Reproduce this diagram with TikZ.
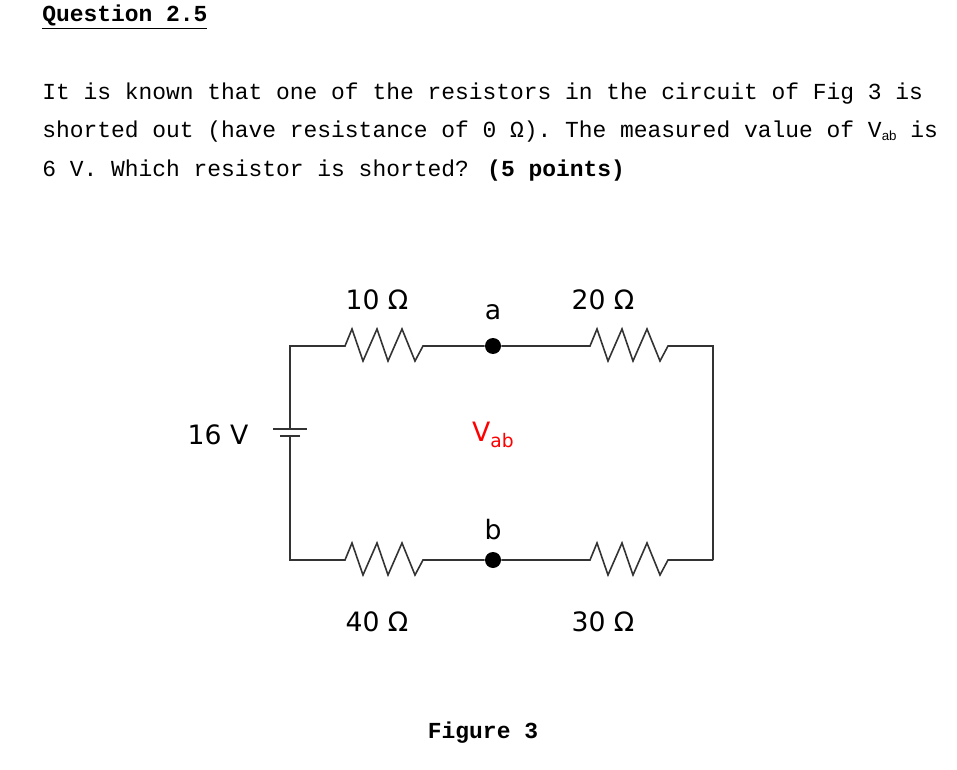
\documentclass[tikz,border=0pt]{standalone}
\usepackage{fontspec}
\setmainfont{Liberation Mono}
\newfontfamily\circfont{DejaVu Sans}
\newfontfamily\subfont{Liberation Sans}
\begin{document}
\begin{tikzpicture}[x=0.75pt,y=-0.75pt,
  txt/.style={anchor=base west,inner sep=0pt,font=\fontsize{17.2}{20}\selectfont},
  clab/.style={inner sep=0pt,font=\circfont\fontsize{20}{24}\selectfont},
  wire/.style={line width=1.2pt,black!80},
  dot/.style={circle,fill=black,inner sep=0pt,minimum size=12pt}]
\useasboundingbox (0,0) rectangle (957,770);
\node[txt] (q) at (42,22) {\textbf{\underline{Question 2.5}}};
\node[txt] (l1) at (42,100) {It is known that one of the resistors in the circuit of Fig 3 is};
\node[txt] (l2) at (42,138) {shorted out (have resistance of 0 Ω). The measured value of V\raisebox{-2pt}{\subfont\fontsize{10}{12}\selectfont ab} is};
\node[txt] (l3) at (42,177) {6 V. Which resistor is shorted? \textbf{(5 points)}};
% circuit
\coordinate (tl) at (290,346); \coordinate (tr) at (713,346);
\coordinate (bl) at (290,560); \coordinate (br) at (713,560);
\coordinate (bt) at (290,429); \coordinate (bb) at (290,436);
\node[dot] (a) at (493,346) {};
\node[dot] (b) at (493,560) {};
\draw[wire] (bt) -- (tl) -- (345,346) -- ++(7,-17) -- ++(11,32) -- ++(14,-32) -- ++(11,32) -- ++(14,-32) -- ++(13,32) -- ++(8,-15) -- (a);
\draw[wire] (a) -- (590,346) -- ++(7,-17) -- ++(11,32) -- ++(14,-32) -- ++(11,32) -- ++(14,-32) -- ++(13,32) -- ++(8,-15) -- (tr) -- (br);
\draw[wire] (bb) -- (bl) -- (345,560) -- ++(7,-17) -- ++(11,32) -- ++(14,-32) -- ++(11,32) -- ++(14,-32) -- ++(13,32) -- ++(8,-15) -- (b);
\draw[wire] (b) -- (590,560) -- ++(7,-17) -- ++(11,32) -- ++(14,-32) -- ++(11,32) -- ++(14,-32) -- ++(13,32) -- ++(8,-15) -- (br);
\draw[wire] (273,429) -- (307,429);
\draw[wire] (280,436) -- (300,436);
\node[clab] (r1) at (377,300) {10 Ω};
\node[clab] (r2) at (603,300) {20 Ω};
\node[clab] (r4) at (377,622) {40 Ω};
\node[clab] (r3) at (603,622) {30 Ω};
\node[clab] (la) at (493,312) {a};
\node[clab] (lb) at (493,530) {b};
\node[clab,text=red] (vab) at (493,435) {V\raisebox{-4pt}{\fontsize{14}{16}\selectfont ab}};
\node[clab] (v) at (218,435) {16 V};
\node[inner sep=0pt,font=\fontsize{17.2}{20}\selectfont\bfseries] (fig) at (483,733) {Figure 3};
\end{tikzpicture}
\end{document}
